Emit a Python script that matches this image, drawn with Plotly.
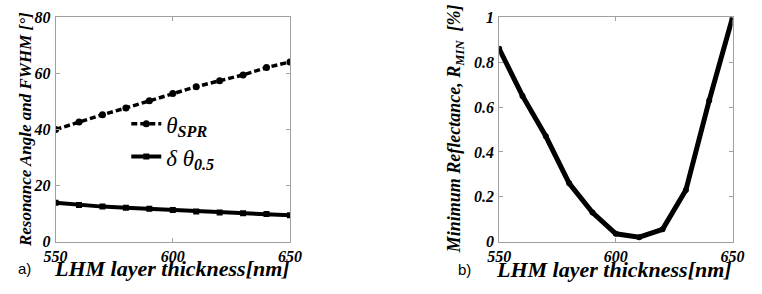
import plotly.graph_objects as go

thickness = [550, 560, 570, 580, 590, 600, 610, 620, 630, 640, 650]
theta_spr = [40.0, 42.7, 45.3, 47.7, 50.3, 52.9, 55.3, 57.4, 59.5, 62.1, 64.1]
fwhm = [13.9, 13.1, 12.5, 12.1, 11.7, 11.3, 10.8, 10.4, 10.1, 9.9, 9.4]
r_min = [0.86, 0.65, 0.47, 0.26, 0.13, 0.035, 0.02, 0.055, 0.23, 0.63, 1.0]

x_ticks = [550, 600, 650]
y1_ticks = [0, 20, 40, 60, 80]
y2_ticks = [0, 0.2, 0.4, 0.6, 0.8, 1]
y2_labels = ["0", "0.2", "0.4", "0.6", "0.8", "1"]

W, H = 762, 294
SERIF = "Liberation Serif"

fig = go.Figure()
fig.add_trace(go.Scatter(
    x=thickness, y=theta_spr, mode="lines+markers",
    name="<i>θ</i><sub><b><i>SPR</i></b></sub>",
    line=dict(color="black", width=3.5, dash="6px,3px"),
    marker=dict(symbol="circle", size=7, color="black"),
    xaxis="x", yaxis="y"))
fig.add_trace(go.Scatter(
    x=thickness, y=fwhm, mode="lines+markers",
    name="<i>δ θ</i><sub><b><i>0.5</i></b></sub>",
    line=dict(color="black", width=4),
    marker=dict(symbol="square", size=6, color="black"),
    xaxis="x", yaxis="y"))
fig.add_trace(go.Scatter(
    x=thickness, y=r_min, mode="lines+markers",
    line=dict(color="black", width=5),
    marker=dict(symbol="circle", size=6, color="black"),
    showlegend=False,
    xaxis="x2", yaxis="y2"))

tickfont = dict(family=SERIF, size=16, color="black", weight="bold", style="italic")
axis_common = dict(
    showgrid=False, zeroline=False, showline=True, linecolor="#a0a0a0",
    linewidth=1, mirror="ticks", ticks="inside", ticklen=4, tickcolor="#a0a0a0",
    tickfont=tickfont)

ydom = [1 - 248 / H, 1 - 10 / H]
fig.update_layout(
    width=W, height=H,
    margin=dict(l=0, r=0, t=0, b=0),
    paper_bgcolor="white", plot_bgcolor="white",
    showlegend=True,
    legend=dict(x=118 / W, y=1 - 100 / H, xanchor="left", yanchor="top",
                bgcolor="rgba(0,0,0,0)",
                font=dict(family=SERIF, size=23, color="black", style="italic"),
                tracegroupgap=0),
    xaxis=dict(domain=[45 / W, 287 / W], range=[550, 650], tickvals=x_ticks,
               anchor="y", **axis_common),
    yaxis=dict(domain=ydom, range=[0, 80], tickvals=y1_ticks, anchor="x",
               ticklabelstandoff=1, **axis_common),
    xaxis2=dict(domain=[503 / W, 744 / W], range=[550, 650], tickvals=x_ticks,
                anchor="y2", **axis_common),
    yaxis2=dict(domain=ydom, range=[0, 1], tickvals=y2_ticks, ticktext=y2_labels,
                anchor="x2", ticklabelstandoff=1, **axis_common),
)

titlefont = dict(family=SERIF, color="black", weight="bold", style="italic")
ann = [
    dict(text="LHM layer thickness[nm]", x=165 / W, y=1 - 277 / H,
         font=dict(size=22, **titlefont)),
    dict(text="LHM layer thickness[nm]", x=622 / W, y=1 - 278 / H,
         font=dict(size=22, **titlefont)),
    dict(text="Resonance Angle and FWHM [°]", x=14 / W, y=1 - 129 / H,
         textangle=-90, font=dict(size=17, **titlefont)),
    dict(text="Minimum Reflectance, R<sub>MIN</sub>  [%]", x=458 / W, y=1 - 128 / H,
         textangle=-90, font=dict(size=18, **titlefont)),
    dict(text="a)", x=13 / W, y=1 - 277 / H,
         font=dict(family="Liberation Sans", size=15, color="black")),
    dict(text="b)", x=467 / W, y=1 - 278 / H,
         font=dict(family="Liberation Sans", size=15, color="black")),
]
for a in ann:
    a.update(xref="paper", yref="paper", showarrow=False,
             xanchor="center", yanchor="middle")
fig.update_layout(annotations=ann)

fig.write_html("out.html")
